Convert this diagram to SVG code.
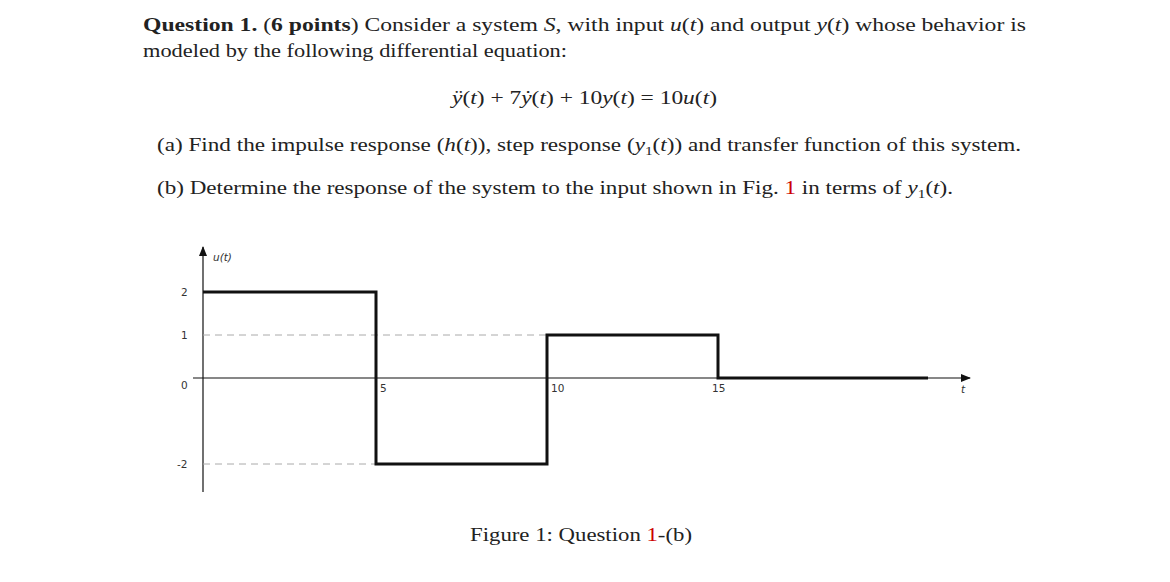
<svg xmlns="http://www.w3.org/2000/svg" width="1170" height="582" viewBox="0 0 1170 582">
<style>
.t{font-family:"Liberation Serif",serif;font-size:19.5px;fill:#222}
.i{font-style:italic}
.s{font-family:"DejaVu Sans",sans-serif;font-size:10.5px;fill:#333}
.d{stroke:#aaa;stroke-dasharray:7,5;stroke-width:1}
.sig{fill:none;stroke:#111;stroke-width:3}
</style>
<defs><marker id="ar" markerWidth="10" markerHeight="8" refX="9" refY="4" orient="auto" markerUnits="userSpaceOnUse"><path d="M0,0L10,4L0,8z" fill="#111"/></marker></defs>
<rect width="1170" height="582" fill="#fff"/>
<text class="t" x="143" y="31" textLength="883" lengthAdjust="spacingAndGlyphs"><tspan font-weight="bold">Question 1.</tspan> (<tspan font-weight="bold">6 points</tspan>) Consider a system <tspan class="i">S</tspan>, with input <tspan class="i">u</tspan>(<tspan class="i">t</tspan>) and output <tspan class="i">y</tspan>(<tspan class="i">t</tspan>) whose behavior is</text>
<text class="t" x="143" y="57" textLength="424" lengthAdjust="spacingAndGlyphs">modeled by the following differential equation:</text>
<text class="t" x="452" y="104" textLength="265" lengthAdjust="spacingAndGlyphs"><tspan class="i">ÿ</tspan>(<tspan class="i">t</tspan>) + 7<tspan class="i">ẏ</tspan>(<tspan class="i">t</tspan>) + 10<tspan class="i">y</tspan>(<tspan class="i">t</tspan>) = 10<tspan class="i">u</tspan>(<tspan class="i">t</tspan>)</text>
<text class="t" x="157" y="151" textLength="864" lengthAdjust="spacingAndGlyphs">(a) Find the impulse response (<tspan class="i">h</tspan>(<tspan class="i">t</tspan>)), step response (<tspan class="i">y</tspan><tspan font-size="13" dy="4">1</tspan><tspan dy="-4">(</tspan><tspan class="i">t</tspan>)) and transfer function of this system.</text>
<text class="t" x="157" y="194" textLength="796" lengthAdjust="spacingAndGlyphs">(b) Determine the response of the system to the input shown in Fig. <tspan fill="#c00">1</tspan> in terms of <tspan class="i">y</tspan><tspan font-size="13" dy="4">1</tspan><tspan dy="-4">(</tspan><tspan class="i">t</tspan>).</text>
<g id="axes">
<line x1="203" y1="492" x2="203" y2="247" stroke="#111" stroke-width="1.2" marker-end="url(#ar)"/>
<line x1="193" y1="378" x2="970" y2="378" stroke="#111" stroke-width="1.2" marker-end="url(#ar)"/>
<line class="d" x1="203" y1="335" x2="547" y2="335"/>
<line class="d" x1="203" y1="464" x2="376" y2="464"/>
</g>
<g id="signal"><path class="sig" d="M203,292H376V464H547V335H718V378H928"/></g>
<g id="labels">
<text class="s" x="213" y="261" font-style="italic">u(t)</text>
<text class="s" x="181" y="296">2</text>
<text class="s" x="181" y="339">1</text>
<text class="s" x="181" y="389">0</text>
<text class="s" x="177" y="468">-2</text>
<text class="s" x="380" y="392">5</text>
<text class="s" x="551" y="392">10</text>
<text class="s" x="712" y="392">15</text>
<text class="s" x="961" y="393" font-style="italic">t</text>
</g>
<text class="t" x="470" y="541" textLength="222" lengthAdjust="spacingAndGlyphs">Figure 1: Question <tspan fill="#c00">1</tspan>-(b)</text>
</svg>
